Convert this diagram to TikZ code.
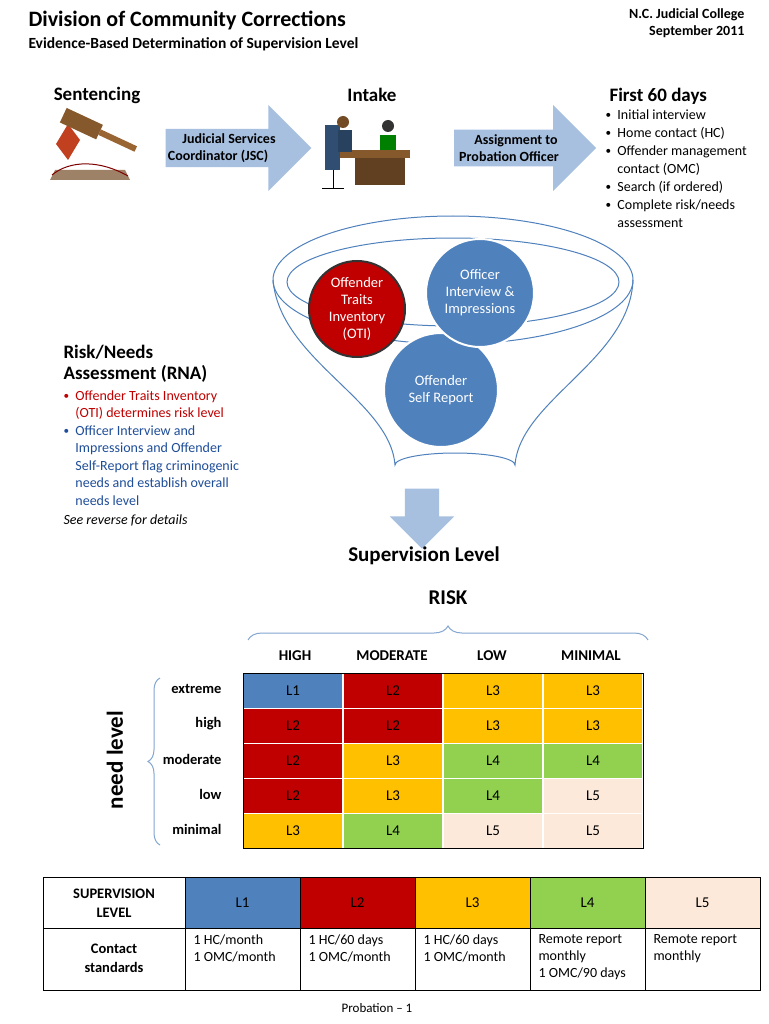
\documentclass[tikz,border=0pt]{standalone}
\usepackage{fontspec}
\setmainfont{Carlito}
\usetikzlibrary{shapes.arrows,decorations.pathreplacing}
\definecolor{cB}{HTML}{4F81BD}\definecolor{cR}{HTML}{C00000}
\definecolor{cY}{HTML}{FFC000}\definecolor{cG}{HTML}{92D050}
\definecolor{cP}{HTML}{FDE9D9}\definecolor{arr}{HTML}{A7C0E0}
\definecolor{txtB}{HTML}{1F4E99}
\newcommand{\bul}{\raisebox{1pt}{\scalebox{0.8}{\textbullet}}\ \ }
\newcommand{\nob}{\phantom{\bul}}
\begin{document}
\begin{tikzpicture}[x=1pt,y=-1pt,
 head/.style={font=\bfseries\fontsize{19}{21}\selectfont},
 body/.style={font=\fontsize{14}{18}\selectfont,align=left},
 bigarrow/.style={fill=arr,draw=none},
 cell/.style={draw=white,line width=1.5pt,minimum width=100pt,minimum height=35pt,font=\fontsize{15}{17}\selectfont},
 tcell/.style={draw=black,line width=0.8pt},
 circ/.style={circle,draw=white,line width=2pt,fill=cB,text=white,align=center,font=\fontsize{14.5}{17}\selectfont}]
\useasboundingbox (0,0) rectangle (768,1024);
\fill[white] (0,0) rectangle (768,1024);
% title
\node[anchor=west,font=\bfseries\fontsize{22}{24}\selectfont] (t1) at (25,20) {Division of Community Corrections};
\node[anchor=west,font=\bfseries\fontsize{15.5}{17}\selectfont] (t2) at (25,44) {Evidence-Based Determination of Supervision Level};
\node[anchor=north east,align=right,font=\bfseries\fontsize{14}{17}\selectfont] (t3) at (748,5) {N.C. Judicial College\\September 2011};
% stages
\node[head] (sent) at (97,95) {Sentencing};
\node[head] (intk) at (372,95) {Intake};
\node[head,anchor=west] (f60) at (606,96) {First 60 days};
\node[body,anchor=north west] (f60l) at (602,106) {%
\bul Initial interview\\\bul Home contact (HC)\\\bul Offender management\\\nob contact (OMC)\\\bul Search (if ordered)\\\bul Complete risk/needs\\\nob assessment};
% gavel clipart
\begin{scope}
\fill[brown!60!black!70] (50,180) -- (130,180) -- (125,170) -- (55,170) -- cycle;
\draw[red!50!black,line width=1pt] (52,175) .. controls (70,160) and (100,160) .. (128,176);
\fill[cR!50!brown] (68,160) -- (80,140) -- (68,124) -- (56,144) -- cycle;
\fill[brown!70!black,rotate around={-25:(95,130)}] (60,122) rectangle (100,138);
\fill[brown!80!black,rotate around={-25:(95,130)}] (100,127) rectangle (140,133);
\end{scope}
% intake clipart
\begin{scope}
\fill[brown!70!black] (330,150) rectangle (410,158);
\fill[brown!50!black] (355,158) rectangle (405,185);
\fill[cB!60!black] (325,125) rectangle (340,170);
\draw[black,thick] (333,170) -- (333,188) (322,188) -- (344,188);
\fill[brown!60!black] (343,122) circle (6);
\fill[cB!50!black] (338,130) rectangle (352,152);
\fill[green!50!black] (380,135) rectangle (396,150);
\fill[black!80] (388,126) circle (6);
\fill[white] (360,146) rectangle (372,150);
\end{scope}
\node[bigarrow,single arrow,single arrow head extend=21pt,minimum height=142pt,minimum width=86pt,inner sep=2pt,
 align=center,font=\bfseries\fontsize{14}{17}\selectfont] (a1) at (229,148) {Judicial Services\\Coordinator (JSC)\hspace*{22pt}};
\node[bigarrow,single arrow,single arrow head extend=21pt,minimum height=142pt,minimum width=86pt,inner sep=2pt,
 align=center,font=\bfseries\fontsize{14}{17}\selectfont] (a2) at (516,148) {Assignment to\\Probation Officer\hspace*{14pt}};
% funnel
\draw[cB,line width=1pt] (273,280) .. controls (280,360) and (390,400) .. (395,465)
  arc[start angle=180,end angle=360,x radius=60,y radius=12]
  .. controls (520,400) and (630,360) .. (633,280);
\draw[cB,line width=1pt] (453,280) ellipse [x radius=180,y radius=64];
\draw[cB,line width=1pt] (453,282) ellipse [x radius=166,y radius=44];
\node[circ,minimum size=114pt] (osr) at (441,390) {Offender\\Self Report};
\node[circle,draw=black!80,line width=2pt,fill=cR,text=white,align=center,minimum size=96pt,inner sep=0pt,font=\fontsize{14.5}{17}\selectfont] (oti) at (357,309) {Offender\\Traits\\Inventory\\(OTI)};
\node[circ,minimum size=108pt,inner sep=0pt] (oii) at (480,293) {Officer\\Interview \&\\Impressions};
% RNA
\node[anchor=north west,align=left,font=\bfseries\fontsize{19}{21}\selectfont] (rna) at (60,342) {Risk/Needs\\Assessment (RNA)};
\node[anchor=north west,align=left,text=cR,font=\fontsize{14}{17.5}\selectfont] (rna1) at (60,387) {\bul Offender Traits Inventory\\\nob (OTI) determines risk level};
\node[anchor=north west,align=left,text=txtB,font=\fontsize{14}{17.5}\selectfont] (rna2) at (60,422) {\bul Officer Interview and\\\nob Impressions and Offender\\\nob Self-Report flag criminogenic\\\nob needs and establish overall\\\nob needs level};
\node[anchor=west,font=\itshape\fontsize{14}{16}\selectfont] (rev) at (60,520) {See reverse for details};
% down arrow
\node[bigarrow,single arrow,shape border rotate=270,single arrow head extend=15pt,minimum height=60pt,inner sep=17pt] (da) at (422,510) {};
\node[font=\bfseries\fontsize{21}{23}\selectfont] (sl) at (424,556) {Supervision Level};
\node[font=\bfseries\fontsize{21}{23}\selectfont] (risk) at (448,598) {RISK};
\draw[cB!70,line width=1pt,decorate,decoration={brace,amplitude=14pt}] (248,640) -- (648,640);
\foreach \t/\x in {HIGH/295,MODERATE/392,LOW/492,MINIMAL/591}
 \node[font=\bfseries\fontsize{15}{17}\selectfont] (h\t) at (\x,656) {\t};
% grid
\foreach \r/\lab [count=\i from 0] in {{cB/L1,cR/L2,cY/L3,cY/L3}/extreme,{cR/L2,cR/L2,cY/L3,cY/L3}/high,{cR/L2,cY/L3,cG/L4,cG/L4}/moderate,{cR/L2,cY/L3,cG/L4,cP/L5}/low,{cY/L3,cG/L4,cP/L5,cP/L5}/minimal}{
 \node[anchor=east,font=\bfseries\fontsize{14.5}{16}\selectfont] (rl\i) at (225,689+\i*35) {\lab};
 \foreach \c/\l [count=\j from 0] in \r
  \node[cell,fill=\c] (g\i\j) at (293+\j*100,691+\i*35) {\l};
}
\draw[black,line width=1pt] (243,673) rectangle (643,848);
\draw[cB!70,line width=1pt,decorate,decoration={brace,amplitude=12pt}] (160,845) -- (160,678);
\node[rotate=90,font=\bfseries\fontsize{23}{25}\selectfont] (nl) at (115,760) {need level};
% bottom table
\foreach \x/\c/\t/\b [count=\k] in {185/cB/L1/{1 HC/month\\1 OMC/month},300/cR/L2/{1 HC/60 days\\1 OMC/month},415/cY/L3/{1 HC/60 days\\1 OMC/month},530/cG/L4/{Remote report\\monthly\\1 OMC/90 days},645/cP/L5/{Remote report\\monthly}}{
 \fill[\c] (\x,877) rectangle (\x+115,928);
 \node[font=\fontsize{15}{17}\selectfont] (bl\k) at (\x+57.5,903) {\t};
 \node[anchor=north west,align=left,font=\fontsize{14}{17}\selectfont] (bb\k) at (\x+5,931) {\b};
}
\node[align=center,font=\bfseries\fontsize{14.5}{19}\selectfont] (sv) at (114,903) {SUPERVISION\\LEVEL};
\node[align=center,font=\bfseries\fontsize{14.5}{19}\selectfont] (cs) at (114,958) {Contact\\standards};
\draw[tcell] (43,877) rectangle (760,990) (43,928) -- (760,928);
\foreach \x in {185,300,415,530,645} \draw[tcell] (\x,877) -- (\x,990);
\node[font=\fontsize{13}{15}\selectfont] (pg) at (377,1008) {Probation – 1};
\end{tikzpicture}
\end{document}
